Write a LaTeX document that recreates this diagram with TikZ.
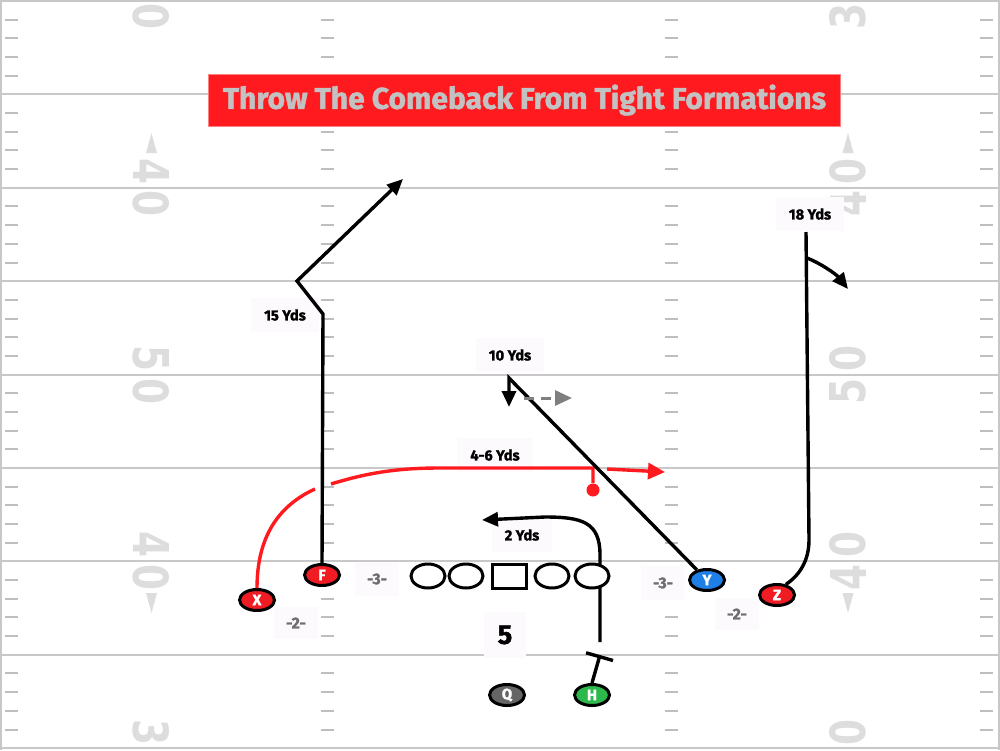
\documentclass[tikz,border=0pt]{standalone}
\usepackage{fontspec}
\setmainfont{Fira Sans}
\newfontfamily\heavyfont[BoldFeatures={FakeBold=1.6}]{Fira Sans}
\newfontfamily\numfont{DejaVu Sans}
\usepackage {tikz}
\usetikzlibrary {positioning}
\usetikzlibrary{shapes.geometric}
\usetikzlibrary{arrows.meta}
\definecolor{fieldline}{HTML}{C8C8C8}
\definecolor{hashgray}{HTML}{BEBEBE}
\definecolor{numgray}{HTML}{DDDDDD}
\definecolor{titlered}{HTML}{FF1A1F}
\definecolor{titleedge}{HTML}{FF8080}
\definecolor{titletext}{HTML}{C2C2C2}
\definecolor{routered}{HTML}{FF1A1F}
\definecolor{playred}{HTML}{F01C24}
\definecolor{playblue}{HTML}{1E7FE6}
\definecolor{playgreen}{HTML}{2DB84B}
\definecolor{playgray}{HTML}{666666}
\definecolor{labelbg}{HTML}{FCFAFD}
\definecolor{spotgray}{HTML}{6E6E6E}
\definecolor{shiftgray}{HTML}{7F7F7F}
\newcommand{\ydigit}[1]{\resizebox{13pt}{18pt}{\numfont\bfseries #1}}
\tikzset{
    yardline/.style = {draw=fieldline, line width=1pt},
    hashmark/.style = {draw=hashgray, line width=1pt},
    numleft/.style = {rotate=-90, text=numgray, inner sep=0pt},
    numright/.style = {rotate=90, text=numgray, inner sep=0pt},
    titlebox/.style = {rectangle, fill=titlered, draw=titleedge, line width=0.5pt, minimum width=316pt, minimum height=26pt, text=titletext, font=\heavyfont\bfseries\fontsize{15}{16}\selectfont},
    player/.style = {ellipse, draw=black, line width=1.5pt, minimum width=17.5pt, minimum height=10.5pt, inner sep=0pt, text=white, font=\heavyfont\bfseries\fontsize{7.5}{8}\selectfont},
    lineman/.style = {ellipse, draw=black, line width=1.5pt, fill=white, minimum width=17pt, minimum height=12pt, inner sep=0pt},
    snapbox/.style = {rectangle, draw=black, line width=1.5pt, fill=white, minimum width=17pt, minimum height=12pt, inner sep=0pt},
    yds/.style = {fill=labelbg, inner xsep=6.5pt, inner ysep=5.5pt, font=\heavyfont\bfseries\fontsize{7.3}{8}\selectfont},
    split/.style = {fill=labelbg, inner xsep=6pt, inner ysep=5.5pt, text=spotgray, font=\heavyfont\bfseries\fontsize{7.8}{8}\selectfont},
    route/.style = {draw=black, line width=1.7pt},
    redroute/.style = {draw=routered, line width=1.7pt},
    tip/.style = {-{Triangle[length=8pt,width=7pt]}},
    catchdot/.style = {circle, fill=routered, inner sep=0pt, minimum size=6.5pt},
    shiftroute/.style = {draw=shiftgray, line width=1.5pt, dash pattern=on 5pt off 3.5pt, -{Triangle[length=8.5pt,width=7.5pt]}}}

\begin{document}
\begin{tikzpicture}[x=0.5pt,y=-0.5pt]
    \useasboundingbox (0,0) rectangle (1000,750);
    \fill[white] (0,0) rectangle (1000,750);
    \foreach \k in {0,...,8}
        \draw[yardline] (0,{1+93.4*\k}) -- (1000,{1+93.4*\k});
    \draw[yardline] (1,0) -- (1,750) (999,0) -- (999,750);
    \foreach \k in {0,...,7}
        \foreach \j in {1,...,4}
            \foreach \xa in {5,321,665,980}
                \draw[hashmark] (\xa,{1+93.4*\k+18.68*\j}) -- ++(13,0);

    \path (151,16) node[numleft] (nl30) {\ydigit{0}}
        (151,171) node[numleft] (nl40a) {\ydigit{4}}
        (151,203) node[numleft] (nl40b) {\ydigit{0}}
        (151,358) node[numleft] (nl50a) {\ydigit{5}}
        (151,391) node[numleft] (nl50b) {\ydigit{0}}
        (151,544) node[numleft] (nl41a) {\ydigit{4}}
        (151,577) node[numleft] (nl41b) {\ydigit{0}}
        (151,732) node[numleft] (nl31) {\ydigit{3}};
    \path (848,16) node[numright] (nr30) {\ydigit{3}}
        (848,171) node[numright] (nr40a) {\ydigit{0}}
        (848,203) node[numright] (nr40b) {\ydigit{4}}
        (848,358) node[numright] (nr50a) {\ydigit{0}}
        (848,391) node[numright] (nr50b) {\ydigit{5}}
        (848,544) node[numright] (nr41a) {\ydigit{0}}
        (848,577) node[numright] (nr41b) {\ydigit{4}}
        (848,732) node[numright] (nr31) {\ydigit{0}};
    \fill[numgray] (146,153) -- (151.5,133) -- (157,153) -- cycle
        (146,593) -- (151.5,613) -- (157,593) -- cycle
        (842.5,153) -- (848,133) -- (853.5,153) -- cycle
        (842.5,593) -- (848,613) -- (853.5,593) -- cycle;

    \node[titlebox] (title) at (524.5,100) {Throw The Comeback From Tight Formations};

    \node[yds] (lblF) at (285,315) {15 Yds};
    \node[yds] (lblY) at (510,355) {10 Yds};
    \node[yds] (lblX) at (495,455) {4-6 Yds};
    \node[yds] (lblT) at (522,535) {2 Yds};
    \node[yds] (lblZ) at (810,214) {18 Yds};
    \node[split] (splitF) at (377,579) {-3-};
    \node[split] (splitX) at (296,623) {-2-};
    \node[split] (splitY) at (663,583) {-3-};
    \node[split] (splitZ) at (737,614) {-2-};
    \node[fill=labelbg, inner sep=7pt, font=\heavyfont\bfseries\fontsize{13.5}{14}\selectfont] (depth) at (505,635) {5};

    \path (257,600) node[player, fill=playred] (X) {X}
        (322,575) node[player, fill=playred] (F) {F}
        (707,580) node[player, fill=playblue] (Y) {Y}
        (777,595) node[player, fill=playred] (Z) {Z}
        (507,695) node[player, fill=playgray] (Q) {Q}
        (592,695) node[player, fill=playgreen] (H) {H};

    \coordinate (fBreak) at (323,314);
    \coordinate (fPost) at (297,281);
    \coordinate (fEnd) at (403,179);
    \coordinate (xGapA) at (315,489);
    \coordinate (xGapB) at (331,484);
    \coordinate (xRun) at (440,468);
    \coordinate (xCut) at (593,468);
    \coordinate (xGo) at (607,469);
    \coordinate (xEnd) at (665,472);
    \coordinate (yTop) at (509,378);
    \coordinate (yBack) at (509,407);
    \coordinate (yShiftA) at (524,398);
    \coordinate (yShiftB) at (572,398);
    \coordinate (zBend) at (809,540);
    \coordinate (zTop) at (806,232);
    \coordinate (zCut) at (807,258);
    \coordinate (zEnd) at (848,289);
    \coordinate (hBlock) at (600,655);
    \coordinate (tStop) at (600,642);
    \coordinate (tTurn) at (600,555);
    \coordinate (tRun) at (545,517);
    \coordinate (tEnd) at (482,520);

    \draw[route, tip] (F.north) -- (fBreak) -- (fPost) -- (fEnd);
    \draw[redroute] (X.north) .. controls (257,535) and (280,505) .. (xGapA);
    \node[catchdot] (dotX) at (593,490) {};
    \draw[redroute] (xGapB) .. controls (370,472) and (400,468) .. (xRun) -- (xCut) -- (dotX);
    \draw[redroute, -{Triangle[length=8.5pt,width=8pt]}] (xGo) -- (xEnd);
    \draw[route, tip] (Y.135) -- (yTop) -- (yBack);
    \draw[shiftroute] (yShiftA) -- (yShiftB);
    \draw[route] (Z.50) .. controls (800,575) and (809,560) .. (zBend) -- (zTop);
    \draw[route, tip] (zCut) .. controls (820,263) and (836,274) .. (zEnd);
    \draw[route, -{Bar[width=14pt]}] (H.north) -- (hBlock);
    \draw[route, tip] (tStop) -- (tTurn) .. controls (600,522) and (582,517) .. (tRun) -- (tEnd);

    \path (428,576) node[lineman] (ol1) {}
        ++(38,0) node[lineman] (ol2) {}
        ++(43.5,0) node[snapbox] (c) {}
        ++(42.5,0) node[lineman] (ol4) {}
        ++(40,0) node[lineman] (ol5) {};
\end{tikzpicture}
\end{document}
